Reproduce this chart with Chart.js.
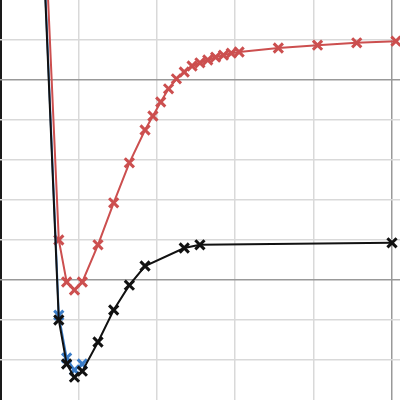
<!DOCTYPE html>
<html>
<head>
<meta charset="utf-8">
<script src="https://cdn.jsdelivr.net/npm/chart.js@4/dist/chart.umd.min.js"></script>
<style>
  html, body { margin: 0; padding: 0; background: #fff; }
  #wrap { width: 400px; height: 400px; }
</style>
</head>
<body>
<div id="wrap"><canvas id="chart" width="400" height="400"></canvas></div>
<script>
// Values (x in grid units, y in grid units)
const redX = [0.55, 0.75, 0.85, 0.95, 1.05, 1.25, 1.45, 1.65, 1.85, 1.95, 2.05, 2.15, 2.25, 2.35, 2.45, 2.55, 2.65, 2.75, 2.85, 2.95, 3.05, 3.55, 4.05, 4.55, 5.05];
const redY = [9.8, 1.0, -0.05, -0.25, -0.05, 0.88, 1.93, 2.93, 3.75, 4.1, 4.45, 4.78, 5.03, 5.2, 5.35, 5.43, 5.5, 5.57, 5.62, 5.67, 5.7, 5.8, 5.87, 5.93, 5.97];

const blackX = [0.55, 0.75, 0.85, 0.95, 1.05, 1.25, 1.45, 1.65, 1.85, 2.35, 2.55, 5.0];
const blackY = [8.35, -1.0, -2.1, -2.43, -2.28, -1.55, -0.75, -0.13, 0.35, 0.8, 0.88, 0.93];

const blueX = [0.55, 0.75, 0.85, 0.95, 1.05];
const blueY = [8.5, -0.88, -1.95, -2.25, -2.1];

const xTicks = [0, 1, 2, 3, 4, 5];
const yTicks = [-2, -1, 0, 1, 2, 3, 4, 5, 6];
const majorTicks = [0, 5];

function toPoints(xs, ys) {
  return xs.map((x, i) => ({ x: x, y: ys[i] }));
}

function gridColor(edge) {
  return ctx => {
    const v = ctx.tick.value;
    if (v === edge) return '#1a1a1a';
    if (majorTicks.includes(v)) return '#999999';
    return '#d9d9d9';
  };
}

function gridWidth(edge) {
  return ctx => (ctx.tick.value === edge ? 3 : 1.5);
}

function series(data, color) {
  return {
    data: data,
    showLine: true,
    borderColor: color,
    backgroundColor: color,
    borderWidth: 2,
    pointStyle: 'crossRot',
    pointRadius: 6.5,
    pointBorderWidth: 3,
    pointHoverRadius: 6.5,
    tension: 0,
  };
}

const ctx = document.getElementById('chart').getContext('2d');
new Chart(ctx, {
  type: 'scatter',
  data: {
    datasets: [
      series(toPoints(blackX, blackY), '#111111'),
      series(toPoints(blueX, blueY), '#3b7dc8'),
      series(toPoints(redX, redY), '#cc4f4f'),
    ],
  },
  options: {
    responsive: false,
    animation: false,
    layout: { padding: 0, autoPadding: false },
    plugins: { legend: { display: false }, tooltip: { enabled: false } },
    scales: {
      x: {
        type: 'linear',
        min: 0,
        max: 400 / 78.4,
        afterBuildTicks: axis => { axis.ticks = xTicks.map(v => ({ value: v })); },
        ticks: { display: false },
        border: { display: false },
        grid: { drawTicks: false, color: gridColor(0), lineWidth: gridWidth(0) },
      },
      y: {
        type: 'linear',
        min: -3,
        max: 7,
        afterBuildTicks: axis => { axis.ticks = yTicks.map(v => ({ value: v })); },
        ticks: { display: false },
        border: { display: false },
        grid: { drawTicks: false, color: gridColor(null), lineWidth: gridWidth(null) },
      },
    },
  },
});
</script>
</body>
</html>
